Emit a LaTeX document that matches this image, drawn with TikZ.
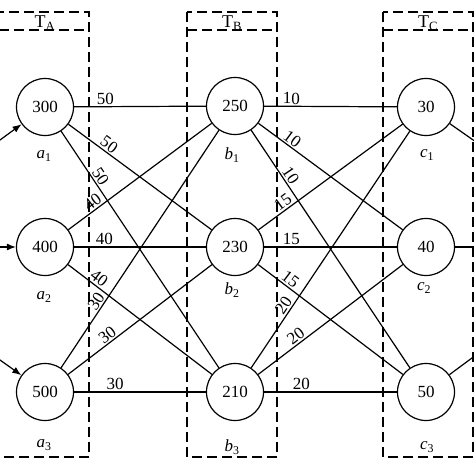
\documentclass[tikz,border=0pt]{standalone}
\usepackage{fontspec}
\setmainfont{Liberation Serif}
\usetikzlibrary{arrows.meta}
\begin{document}
\begin{tikzpicture}[x=1pt,y=-1pt,
 city/.style={circle,draw,line width=1.2pt,minimum size=57pt,inner sep=0pt,font=\fontsize{17}{17}\selectfont},
 link/.style={line width=1.2pt},
 wlab/.style={sloped,above,inner sep=1.5pt,font=\fontsize{17}{17}\selectfont},
 nlab/.style={font=\fontsize{17}{17}\selectfont},
 col/.style={line width=1.4pt,dash pattern=on 10pt off 5pt},
 ttl/.style={font=\fontsize{18}{18}\selectfont,inner sep=0pt},
 inarrow/.style={line width=1.2pt,-{Latex[length=9pt,width=7pt]}}]

\useasboundingbox (0,0) rectangle (474,474);

% column boxes
\draw[col] (-1,12) rectangle (89,457);
\draw[col] (-1,30) -- (89,30);
\draw[col] (187,12) rectangle (277,457);
\draw[col] (187,30) -- (277,30);
\draw[col] (383,12) rectangle (473,457);
\draw[col] (383,30) -- (473,30);
\node[ttl] (tA) at (45,23) {T\textsubscript{A}};
\node[ttl] (tB) at (232,23) {T\textsubscript{B}};
\node[ttl] (tC) at (428,23) {T\textsubscript{C}};

% nodes
\node[city] (a1) at (45,107) {300};
\node[city] (a2) at (45,247) {400};
\node[city] (a3) at (45,392) {500};
\node[city] (b1) at (235,106) {250};
\node[city] (b2) at (235,247) {230};
\node[city] (b3) at (235,392) {210};
\node[city] (c1) at (426,107) {30};
\node[city] (c2) at (426,247) {40};
\node[city] (c3) at (426,392) {50};

% node names
\node[nlab] (la1) at (44,156) {\textit{a}\textsubscript{1}};
\node[nlab] (la2) at (44,297) {\textit{a}\textsubscript{2}};
\node[nlab] (la3) at (44,445) {\textit{a}\textsubscript{3}};
\node[nlab] (lb1) at (232,155) {\textit{b}\textsubscript{1}};
\node[nlab] (lb2) at (232,290) {\textit{b}\textsubscript{2}};
\node[nlab] (lb3) at (232,447) {\textit{b}\textsubscript{3}};
\node[nlab] (lc1) at (427,155) {\textit{c}\textsubscript{1}};
\node[nlab] (lc2) at (424,288) {\textit{c}\textsubscript{2}};
\node[nlab] (lc3) at (427,447) {\textit{c}\textsubscript{3}};

% incoming and outgoing
\coordinate (ia1) at (-45,173);
\coordinate (ia2) at (-45,247);
\coordinate (ia3) at (-45,328);
\coordinate (oc1) at (526,177);
\coordinate (oc2) at (526,247);
\coordinate (oc3) at (526,318);
\draw[inarrow] (ia1) -- (a1);
\draw[inarrow] (ia2) -- (a2);
\draw[inarrow] (ia3) -- (a3);
\draw[link] (c1) -- (oc1);
\draw[link] (c2) -- (oc2);
\draw[link] (c3) -- (oc3);

% A -> B
\draw[link] (a1) -- node[wlab,pos=0.237]{50} (b1);
\draw[link] (a1) -- node[wlab,pos=0.252]{50} (b2);
\draw[link] (a1) -- node[wlab,pos=0.209]{50} (b3);
\draw[link] (a2) -- node[wlab,pos=0.202]{40} (b1);
\draw[link] (a2) -- node[wlab,pos=0.229]{40} (b2);
\draw[link] (a2) -- node[wlab,pos=0.183]{40} (b3);
\draw[link] (a3) -- node[wlab,pos=0.263]{30} (b1);
\draw[link] (a3) -- node[wlab,pos=0.305]{30} (b2);
\draw[link] (a3) -- node[wlab,pos=0.312]{30} (b3);

% B -> C
\draw[link] (b1) -- node[wlab,pos=0.205]{10} (c1);
\draw[link] (b1) -- node[wlab,pos=0.203]{10} (c2);
\draw[link] (b1) -- node[wlab,pos=0.209]{10} (c3);
\draw[link] (b2) -- node[wlab,pos=0.201]{15} (c1);
\draw[link] (b2) -- node[wlab,pos=0.205]{15} (c2);
\draw[link] (b2) -- node[wlab,pos=0.19]{15} (c3);
\draw[link] (b3) -- node[wlab,pos=0.245]{20} (c1);
\draw[link] (b3) -- node[wlab,pos=0.292]{20} (c2);
\draw[link] (b3) -- node[wlab,pos=0.28]{20} (c3);
\end{tikzpicture}
\end{document}
